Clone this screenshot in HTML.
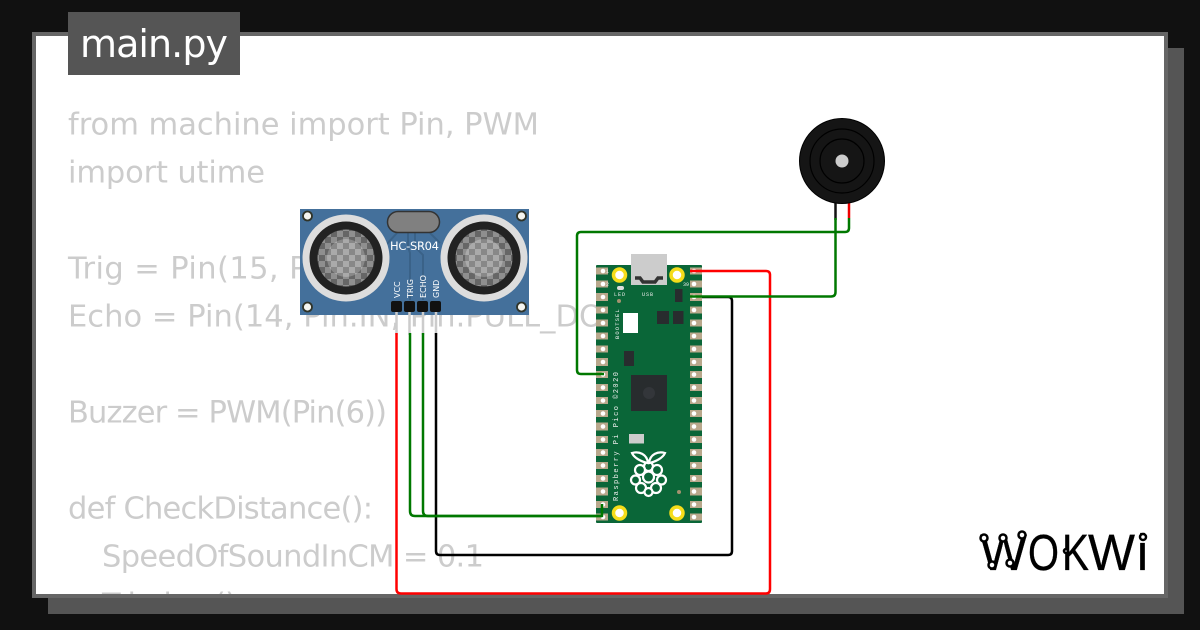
<!DOCTYPE html>
<html><head><meta charset="utf-8"><style>html,body{margin:0;padding:0;background:#111;width:1200px;height:630px;overflow:hidden}svg{display:block}</style></head><body>
<svg xmlns="http://www.w3.org/2000/svg" width="1200" height="630" viewBox="0 0 1200 630">
<defs>
<pattern id="ck" width="12" height="12" patternUnits="userSpaceOnUse" x="1" y="3"><rect width="12" height="12" fill="#666"/><rect width="6" height="6" fill="#8f8f8f"/><rect x="6" y="6" width="6" height="6" fill="#8f8f8f"/></pattern>
<pattern id="ck2" width="12" height="12" patternUnits="userSpaceOnUse" x="1" y="3"><rect width="12" height="12" fill="#888"/><rect width="6" height="6" fill="#aaa"/><rect x="6" y="6" width="6" height="6" fill="#aaa"/></pattern>
<clipPath id="cl"><rect x="36" y="36" width="1128" height="558"/></clipPath>
</defs>
<rect width="1200" height="630" fill="#111"/>
<rect x="48" y="48" width="1136" height="566" fill="#555"/>
<rect x="34" y="34" width="1132" height="562" fill="#fff" stroke="#666" stroke-width="4"/>
<g clip-path="url(#cl)" font-family="'DejaVu Sans',sans-serif" font-size="30.500" fill="#ccc">
<text x="68" y="134.500" textLength="471">from machine import Pin, PWM</text>
<text x="68" y="182.500" textLength="197">import utime</text>
<text x="68" y="278.500" textLength="356">Trig = Pin(15, Pin.OUT)</text>
<text x="68" y="326.500" textLength="600">Echo = Pin(14, Pin.IN, Pin.PULL_DOWN)</text>
<text x="68" y="422.500" textLength="319">Buzzer = PWM(Pin(6))</text>
<text x="68" y="518.500" textLength="305">def CheckDistance():</text>
<text x="102" y="566.500" textLength="382">SpeedOfSoundInCM = 0.1</text>
<text x="102" y="614.500" textLength="135">Trig.low()</text>
</g>
<rect x="68" y="12" width="172" height="63" fill="#555"/>
<text x="80" y="57" font-family="'DejaVu Sans',sans-serif" font-size="38" fill="#fff" textLength="148">main.py</text>

<!-- HC-SR04 -->
<rect x="300" y="209" width="229" height="106" fill="#44709b"/>
<g fill="none" stroke="#3a6288" stroke-width="2"><path d="M397 233L385 246"/><path d="M408 233V247L410 253V300"/><path d="M415 233V247L423 255V300"/><path d="M430 233L440 243"/></g>
<rect x="387.500" y="211.500" width="52" height="21" rx="10.500" fill="#808080" stroke="#333" stroke-width="1.500"/>
<text x="390" y="250" font-family="'DejaVu Sans',sans-serif" font-size="11.500" fill="#fff" textLength="49">HC-SR04</text>
<g fill="#f5f5f0" stroke="#2f3328" stroke-width="1.800"><circle cx="307.500" cy="216" r="4.500"/><circle cx="521.500" cy="216" r="4.500"/><circle cx="307.500" cy="307" r="4.500"/><circle cx="521.500" cy="307" r="4.500"/></g>
<circle cx="346" cy="258" r="43.500" fill="#ddd"/><circle cx="346" cy="258" r="36.500" fill="#222"/><circle cx="346" cy="258" r="28.500" fill="url(#ck)"/><circle cx="346" cy="258" r="19" fill="url(#ck2)"/>
<circle cx="484" cy="258" r="43.500" fill="#ddd"/><circle cx="484" cy="258" r="36.500" fill="#222"/><circle cx="484" cy="258" r="28.500" fill="url(#ck)"/><circle cx="484" cy="258" r="19" fill="url(#ck2)"/>
<g font-family="'DejaVu Sans',sans-serif" font-size="8" fill="#fff">
<text transform="translate(400,298) rotate(-90)">VCC</text>
<text transform="translate(413,298) rotate(-90)">TRIG</text>
<text transform="translate(426,298) rotate(-90)">ECHO</text>
<text transform="translate(439,298) rotate(-90)">GND</text>
</g>
<g fill="none" stroke="#ccc" stroke-width="2.500"><path d="M396.500 305V335M409.500 305V335M423 305V335M436 305V335"/></g>
<g fill="#111"><rect x="391" y="301" width="11" height="11" rx="2"/><rect x="404" y="301" width="11" height="11" rx="2"/><rect x="417" y="301" width="11" height="11" rx="2"/><rect x="430" y="301" width="11" height="11" rx="2"/></g>

<!-- Pico -->
<rect x="596" y="265" width="106" height="258" rx="1" fill="#0a6638"/>
<g id="pads">
<g fill="#b9a88c">
<rect x="596" y="267.500" width="12" height="7"/><rect x="596" y="280.500" width="12" height="7"/><rect x="596" y="293" width="12" height="8"/><rect x="596" y="306.500" width="12" height="7"/><rect x="596" y="319.500" width="12" height="7"/><rect x="596" y="332.500" width="12" height="7"/><rect x="596" y="345.500" width="12" height="7"/><rect x="596" y="358" width="12" height="8"/><rect x="596" y="371" width="12" height="7"/><rect x="596" y="384" width="12" height="7"/><rect x="596" y="397" width="12" height="7"/><rect x="596" y="410" width="12" height="7"/><rect x="596" y="422.500" width="12" height="8"/><rect x="596" y="436" width="12" height="7"/><rect x="596" y="449" width="12" height="7"/><rect x="596" y="462" width="12" height="7"/><rect x="596" y="475" width="12" height="7"/><rect x="596" y="487.500" width="12" height="8"/><rect x="596" y="501" width="12" height="7"/><rect x="596" y="513.500" width="12" height="7"/>
<rect x="690" y="267.500" width="12" height="7"/><rect x="690" y="280.500" width="12" height="7"/><rect x="690" y="293" width="12" height="8"/><rect x="690" y="306.500" width="12" height="7"/><rect x="690" y="319.500" width="12" height="7"/><rect x="690" y="332.500" width="12" height="7"/><rect x="690" y="345.500" width="12" height="7"/><rect x="690" y="358" width="12" height="8"/><rect x="690" y="371" width="12" height="7"/><rect x="690" y="384" width="12" height="7"/><rect x="690" y="397" width="12" height="7"/><rect x="690" y="410" width="12" height="7"/><rect x="690" y="422.500" width="12" height="8"/><rect x="690" y="436" width="12" height="7"/><rect x="690" y="449" width="12" height="7"/><rect x="690" y="462" width="12" height="7"/><rect x="690" y="475" width="12" height="7"/><rect x="690" y="487.500" width="12" height="8"/><rect x="690" y="501" width="12" height="7"/><rect x="690" y="513.500" width="12" height="7"/>
</g>
<g fill="#fff">
<circle cx="603" cy="271" r="2.300"/><circle cx="603" cy="284" r="2.300"/><circle cx="603" cy="297" r="2.300"/><circle cx="603" cy="310" r="2.300"/><circle cx="603" cy="323" r="2.300"/><circle cx="603" cy="336" r="2.300"/><circle cx="603" cy="349" r="2.300"/><circle cx="603" cy="362" r="2.300"/><circle cx="603" cy="374.500" r="2.300"/><circle cx="603" cy="387.500" r="2.300"/><circle cx="603" cy="400.500" r="2.300"/><circle cx="603" cy="413.500" r="2.300"/><circle cx="603" cy="426.500" r="2.300"/><circle cx="603" cy="439.500" r="2.300"/><circle cx="603" cy="452.500" r="2.300"/><circle cx="603" cy="465.500" r="2.300"/><circle cx="603" cy="478.500" r="2.300"/><circle cx="603" cy="491.500" r="2.300"/><circle cx="603" cy="504.500" r="2.300"/><circle cx="603" cy="517" r="2.300"/>
<circle cx="694" cy="271" r="2.300"/><circle cx="694" cy="284" r="2.300"/><circle cx="694" cy="297" r="2.300"/><circle cx="694" cy="310" r="2.300"/><circle cx="694" cy="323" r="2.300"/><circle cx="694" cy="336" r="2.300"/><circle cx="694" cy="349" r="2.300"/><circle cx="694" cy="362" r="2.300"/><circle cx="694" cy="374.500" r="2.300"/><circle cx="694" cy="387.500" r="2.300"/><circle cx="694" cy="400.500" r="2.300"/><circle cx="694" cy="413.500" r="2.300"/><circle cx="694" cy="426.500" r="2.300"/><circle cx="694" cy="439.500" r="2.300"/><circle cx="694" cy="452.500" r="2.300"/><circle cx="694" cy="465.500" r="2.300"/><circle cx="694" cy="478.500" r="2.300"/><circle cx="694" cy="491.500" r="2.300"/><circle cx="694" cy="504.500" r="2.300"/><circle cx="694" cy="517" r="2.300"/>
</g>
</g>
<g fill="#fff" stroke="#f5dd1a" stroke-width="3.500"><circle cx="619.500" cy="275" r="6"/><circle cx="677" cy="275" r="6"/><circle cx="619.500" cy="513" r="6"/><circle cx="677" cy="513" r="6"/></g>
<rect x="631" y="254" width="36" height="31" fill="#ccc"/>
<path d="M635 278L640 278L643 282H655L658 278L663 278" fill="none" stroke="#333" stroke-width="3.500"/>
<rect x="617" y="286" width="7" height="4" rx="2" fill="#ddd"/>
<circle cx="619" cy="301" r="2" fill="#a5926f"/>
<rect x="623" y="313" width="15" height="20" fill="#fff"/>
<g fill="#282c2e"><rect x="675" y="289" width="7.500" height="13"/><rect x="657" y="311" width="12" height="13"/><rect x="673" y="311" width="10.500" height="13"/><rect x="624" y="351" width="10" height="15"/><rect x="631" y="375" width="36" height="36"/></g>
<circle cx="649" cy="393" r="6" fill="#33363a"/>
<rect x="629" y="434" width="15" height="9.500" fill="#ccc"/>
<circle cx="679" cy="492" r="2" fill="#a5926f"/>
<g fill="#0a6638" stroke="#fff" stroke-width="2.200">
<circle cx="648.500" cy="466.500" r="4.500"/><circle cx="640" cy="470" r="5"/><circle cx="657" cy="470" r="5"/><circle cx="635.500" cy="480" r="4.500"/><circle cx="661.500" cy="480" r="4.500"/><circle cx="648.500" cy="477" r="5.500"/><circle cx="641" cy="488" r="5"/><circle cx="656" cy="488" r="5"/><circle cx="648.500" cy="492" r="4"/>
<path d="M648 463C642 462 634 458 632 453C639 451 647 454 648 463ZM649 463C655 462 663 458 665 453C658 451 650 454 649 463Z"/>
</g>
<g font-family="'Liberation Mono',monospace" fill="#eee" font-size="6">
<text x="606" y="273" font-size="5">1</text><text x="606" y="286" font-size="5">2</text><text x="683" y="286" font-size="5">39</text>
<text x="614" y="296" font-size="5" letter-spacing="1">LED</text><text x="642" y="296" font-size="5" letter-spacing="1">USB</text>
<text transform="translate(619,339) rotate(-90)" letter-spacing="1.100" font-size="5.500">BOOTSEL</text>
<text transform="translate(618,501) rotate(-90)" font-size="7" textLength="129">Raspberry Pi Pico ©2020</text>
</g>

<!-- Buzzer -->
<path d="M835.500 200V220" stroke="#111" stroke-width="2.500" fill="none"/>
<path d="M849 200V218" stroke="#e00" stroke-width="2.500" fill="none"/>
<circle cx="842" cy="161" r="42.500" fill="#151515" stroke="#000" stroke-width="1"/>
<circle cx="842" cy="161" r="32" fill="none" stroke="#000" stroke-width="1.200"/><circle cx="842" cy="161" r="22" fill="none" stroke="#000" stroke-width="1.200"/>
<circle cx="842" cy="161" r="6.500" fill="#ccc"/>

<!-- wires -->
<g fill="none" stroke-width="2.500" stroke-linejoin="round">
<path d="M436 333V551Q436 555 440 555H728Q732 555 732 551V301Q732 297 728 297H702" stroke="#000"/>
<path d="M396.500 333V589Q396.500 593.500 401 593.500H766Q770 593.500 770 589V275Q770 271 766 271H690" stroke="#f00"/>
<path d="M410 333V511Q410 516 415 516H602" stroke="#007800"/>
<path d="M423 333V511Q423 516 428 516H602V504" stroke="#007800"/>
<path d="M849 218V228Q849 232 845 232H581Q577 232 577 236V370Q577 374 581 374H604" stroke="#007800"/>
<path d="M835.500 218V292Q835.500 296.500 831 296.500H690" stroke="#007800"/>
</g>

<!-- logo -->
<g font-family="'Liberation Sans',sans-serif" font-size="51" fill="#000" stroke="#000" stroke-width="0.300" stroke-linejoin="round">
<text x="980" y="570" textLength="47" lengthAdjust="spacingAndGlyphs">W</text>
<text x="1028" y="570" textLength="31" lengthAdjust="spacingAndGlyphs">O</text>
<text x="1062" y="570" textLength="27" lengthAdjust="spacingAndGlyphs">K</text>
<text x="1088" y="570" textLength="47" lengthAdjust="spacingAndGlyphs">W</text>
<text x="1137" y="570" textLength="11" lengthAdjust="spacingAndGlyphs">i</text>
</g>
<g fill="#fff" stroke="#000" stroke-width="2.500"><circle cx="984" cy="538" r="3.500"/><circle cx="1003" cy="538" r="3.500"/><circle cx="1022" cy="535" r="3.500"/><circle cx="992" cy="565" r="3.500"/><circle cx="1010" cy="563" r="3.500"/><circle cx="1066" cy="551" r="2"/><circle cx="1143" cy="537" r="3"/></g>
</svg>
</body></html>
